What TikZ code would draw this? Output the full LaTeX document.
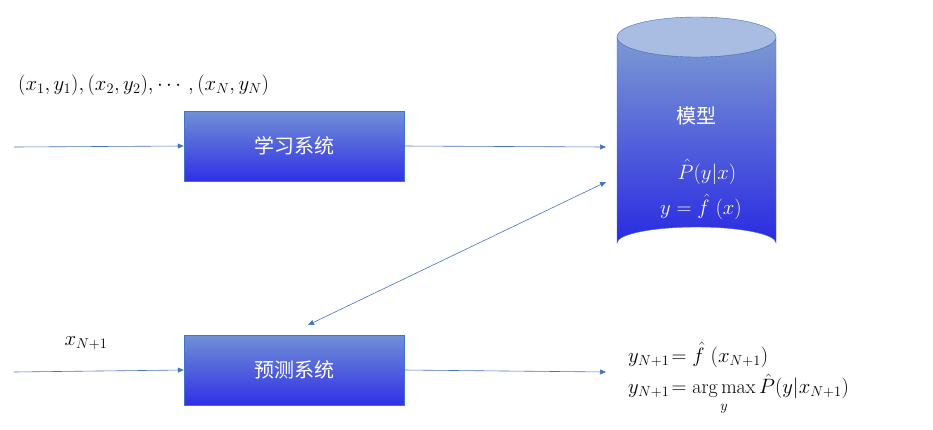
\documentclass[tikz,border=0pt]{standalone}
\usepackage{amsmath}
\usepackage{fontspec}
\newfontfamily\cjk{Noto Sans CJK SC}
\usetikzlibrary{arrows.meta}
\definecolor{ln}{HTML}{4472C4}
\definecolor{btop}{HTML}{7090D4}
\definecolor{bbot}{HTML}{3030E6}
\definecolor{ctop}{HTML}{7C9AD2}
\definecolor{cbot}{HTML}{2A2AE2}
\definecolor{clid}{HTML}{A9BDE3}
\tikzset{
  sysbox/.style={draw=ln,line width=0.4pt,top color=btop,bottom color=bbot,minimum width=220pt,minimum height=70pt,inner sep=0pt,text=white,font=\cjk\fontsize{20}{22}\selectfont},
  conn/.style={draw=ln,line width=0.6pt,-{Triangle[length=6pt,width=5pt]}},
  mtxt/.style={font=\fontsize{20}{24}\selectfont,inner sep=0pt}
}
\begin{document}
\begin{tikzpicture}[x=1pt,y=-1pt]
\useasboundingbox (0,0) rectangle (933,429);
\node[sysbox] (learn) at (294,146) {学习系统};
\node[sysbox] (pred) at (294,370) {预测系统};
% cylinder
\shade[top color=ctop,bottom color=cbot,draw=ln,line width=0.4pt]
  (617,37) -- (617,243) arc[start angle=180,end angle=360,x radius=79.5,y radius=16] -- (776,37) arc[start angle=0,end angle=180,x radius=79.5,y radius=20] -- cycle;
\fill[clid,draw=ln,line width=0.4pt] (696.5,37) ellipse[x radius=79.5,y radius=20];
\node[text=white,font=\cjk\fontsize{20}{22}\selectfont] (mx) at (696,116) {模型};
\node[text=white,mtxt] (p1) at (707,172) {$\hat{P}(y|x)$};
\node[text=white,mtxt] (p2) at (701,207) {$y=\hat{f}\ (x)$};
\coordinate (cin) at (606,147);
\coordinate (cin2) at (606,182);
\coordinate (cout) at (606,372);
\coordinate (l1) at (14,147);
\coordinate (l2) at (14,372);
\coordinate (pt) at (308,325);
\draw[conn] (l1) -- (learn.west);
\draw[conn] (learn.east) -- (cin);
\draw[conn] (l2) -- (pred.west);
\draw[conn] (pred.east) -- (cout);
\draw[conn,{Triangle[length=6pt,width=5pt]}-{Triangle[length=6pt,width=5pt]}] (pt) -- (cin2);
\node[mtxt,anchor=west] (data) at (18,85) {$(x_1,y_1),(x_2,y_2),\cdots,(x_N,y_N)$};
\node[mtxt] (xn) at (86,343) {$x_{N+1}$};
\node[mtxt,anchor=west] (r1) at (628,355) {$y_{N+1}\!=\hat{f}\ (x_{N+1})$};
\node[mtxt,anchor=north west] (r2) at (628,374) {$y_{N+1}\!=\operatorname*{arg\,max}\limits_{y}\hat{P}(y|x_{N+1})$};
\end{tikzpicture}
\end{document}
